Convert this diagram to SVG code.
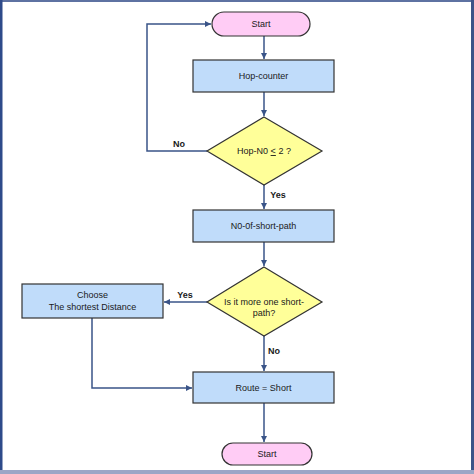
<svg xmlns="http://www.w3.org/2000/svg" width="474" height="474" viewBox="0 0 474 474">
<defs>
<style>
text{font-family:"Liberation Sans",Arial,sans-serif;font-size:9px;fill:#1a1a1a;text-anchor:middle}
.lbl{font-weight:bold;font-size:9px}
.proc{fill:#C0DCFA;stroke:#333;stroke-width:1.2}
.dec{fill:#FFFF99;stroke:#333;stroke-width:1.2}
.term{fill:#FFCCF5;stroke:#333;stroke-width:1.2}
.conn{fill:none;stroke:#3A5488;stroke-width:1.5}
</style>
<marker id="arr" viewBox="0 0 10 10" refX="10" refY="5" markerWidth="6" markerHeight="6" orient="auto" markerUnits="userSpaceOnUse">
<path d="M0,0 L10,5 L0,10 z" fill="#3A5488"/>
</marker>
</defs>
<rect x="0" y="0" width="474" height="474" fill="#FFFFFF"/>
<g id="frame">
<rect x="0" y="0" width="474" height="2" fill="#5E72A2"/>
<rect x="0" y="0" width="2.5" height="474" fill="#2E4A8A"/>
<rect x="471" y="0" width="3" height="474" fill="#3E5488"/>
<rect x="0" y="470" width="474" height="4" fill="#9CA6C6"/>
</g>
<g id="connectors">
<line class="conn" x1="264" y1="36" x2="264" y2="59" marker-end="url(#arr)"/>
<line class="conn" x1="264" y1="92" x2="264" y2="116" marker-end="url(#arr)"/>
<polyline class="conn" points="207,151 147,151 147,24 211,24" marker-end="url(#arr)"/>
<line class="conn" x1="264" y1="185" x2="264" y2="209" marker-end="url(#arr)"/>
<line class="conn" x1="264" y1="242" x2="264" y2="266" marker-end="url(#arr)"/>
<line class="conn" x1="207" y1="302" x2="164" y2="302" marker-end="url(#arr)"/>
<line class="conn" x1="264" y1="336" x2="264" y2="371" marker-end="url(#arr)"/>
<polyline class="conn" points="92,318 92,388 192,388" marker-end="url(#arr)"/>
<line class="conn" x1="264" y1="403" x2="264" y2="442" marker-end="url(#arr)"/>
<text class="lbl" x="179" y="147">No</text>
<text class="lbl" x="278" y="198">Yes</text>
<text class="lbl" x="185" y="298">Yes</text>
<text class="lbl" x="274" y="354">No</text>
</g>
<g id="start1">
<rect class="term" x="212" y="12" width="98" height="24" rx="12"/>
<text x="261" y="27">Start</text>
</g>
<g id="hop-counter">
<rect class="proc" x="193" y="60" width="141" height="32"/>
<text x="263.5" y="79">Hop-counter</text>
</g>
<g id="decision1">
<polygon class="dec" points="264,117 322,151 264,185 207,151"/>
<text x="264" y="154">Hop-N0 <tspan text-decoration="underline">&lt;</tspan> 2 ?</text>
</g>
<g id="n0-of-short-path">
<rect class="proc" x="193" y="210" width="141" height="32"/>
<text x="263.5" y="229">N0-0f-short-path</text>
</g>
<g id="decision2">
<polygon class="dec" points="264,267 322,302 264,336 207,302"/>
<text x="264" y="304.5">Is it more one short-</text>
<text x="264" y="316">path?</text>
</g>
<g id="choose">
<rect class="proc" x="22" y="284" width="141" height="34"/>
<text x="92.5" y="298">Choose</text>
<text x="92.5" y="309.5">The shortest Distance</text>
</g>
<g id="route">
<rect class="proc" x="193" y="372" width="141" height="31"/>
<text x="263.5" y="390.5">Route = Short</text>
</g>
<g id="start2">
<rect class="term" x="222" y="443" width="90" height="22" rx="11"/>
<text x="267" y="457">Start</text>
</g>
</svg>
